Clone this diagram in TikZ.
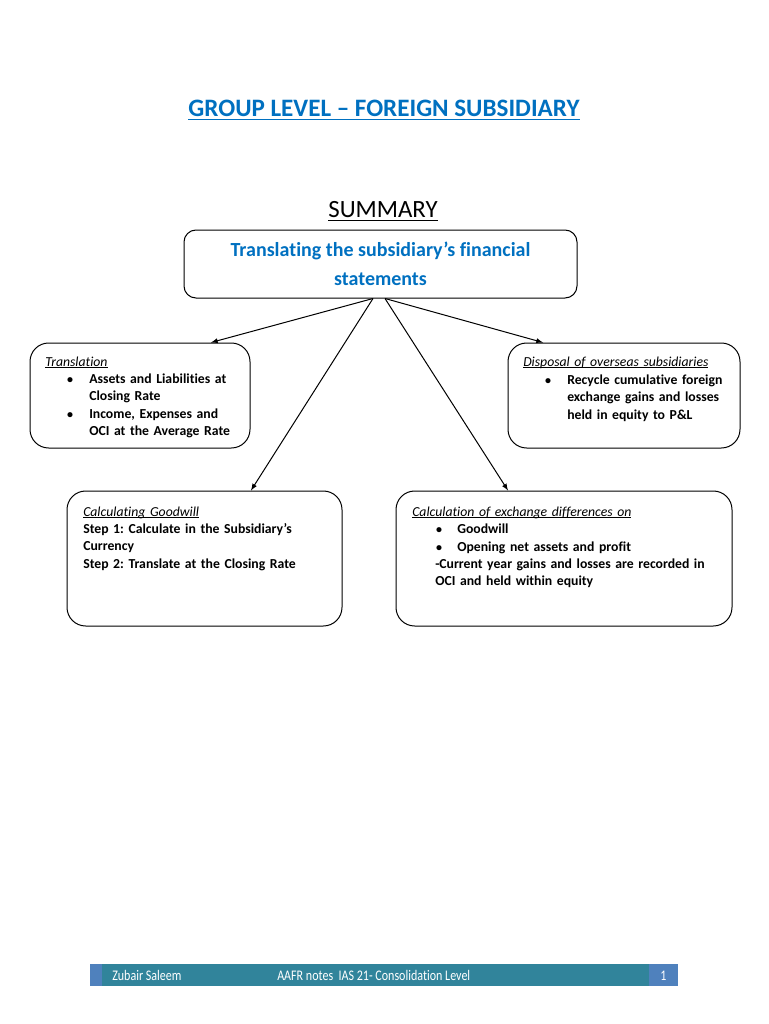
\documentclass[tikz,border=0pt]{standalone}
\usepackage{fontspec}
\setmainfont{Carlito}[Ligatures=NoCommon]
\newfontfamily\footfont[FakeStretch=0.82,Ligatures=NoCommon]{Carlito}
\usetikzlibrary{calc,positioning}

\definecolor{titleblue}{HTML}{0070C0}
\definecolor{footteal}{HTML}{31849B}
\definecolor{footblue}{HTML}{4F81BD}

\newcommand{\uln}[2][2pt]{\leavevmode\setbox0\hbox{#2}\rlap{\copy0}\rule[-#1]{\wd0}{0.6pt}}
\newcommand{\boxhead}[1]{\uln[1.6pt]{\textmd{\textit{#1}}}}

\begin{document}
\begin{tikzpicture}[x=0.75pt,y=-0.75pt]

\tikzstyle{topbox} = [rectangle, draw=black, rounded corners=9pt, line width=0.75pt, minimum width=294.75pt, minimum height=51pt, align=center, text=titleblue, font=\fontsize{15}{21.75}\selectfont\bfseries]
\tikzstyle{box} = [rectangle, draw=black, rounded corners=14pt, line width=0.75pt, inner sep=0]
\tikzstyle{boxtext} = [anchor=base west, inner sep=0, text width=230pt, align=left, font=\fontsize{10.3}{13.2}\selectfont\bfseries\frenchspacing]
\tikzstyle{dot} = [anchor=base, inner sep=0, font=\fontsize{9}{13.2}\selectfont\bfseries]
\tikzstyle{foottext} = [anchor=base west, inner sep=0, text=white, font=\footfont\fontsize{11}{12}\selectfont]
\tikzstyle{arc} = [->, >=latex, line width=0.75pt]

\useasboundingbox (0,0) rectangle (768,1024);

\node[anchor=base, text=titleblue, font=\fontsize{18.8}{22}\selectfont\bfseries] (title) at (384,116) {\uln[3pt]{GROUP LEVEL – FOREIGN SUBSIDIARY}};
\node[anchor=base, font=\fontsize{18.6}{22}\selectfont] (summary) at (383,217) {\uln[2.5pt]{SUMMARY}};

\node[topbox] (translating) at (380.5,264) {Translating the subsidiary’s financial\\statements};

\node[box, minimum width=165pt, minimum height=78.75pt] (translation) at (140,395.5) {};
\node[box, minimum width=174pt, minimum height=78.75pt] (disposal) at (624,395.5) {};
\node[box, minimum width=206.25pt, minimum height=101.25pt] (goodwill) at (204.5,558.5) {};
\node[box, minimum width=252pt, minimum height=101.25pt] (exchange) at (564,558.5) {};

% translation
\node[boxtext] (translationhead) at (45,366) {\boxhead{Translation}};
\node[dot] (translationdot1) at (70,383) {\textbullet};
\node[boxtext] (translationitem1) at (89,383) {Assets and Liabilities at\\Closing Rate};
\node[dot] (translationdot2) at (70,418) {\textbullet};
\node[boxtext] (translationitem2) at (89,418) {Income, Expenses and\\OCI at the Average Rate};

% disposal
\node[boxtext] (disposalhead) at (523,366) {\boxhead{Disposal of overseas subsidiaries}};
\node[dot] (disposaldot) at (548,384) {\textbullet};
\node[boxtext] (disposalitem) at (567,384) {Recycle cumulative foreign\\exchange gains and losses\\held in equity to P\&L};

% goodwill
\node[boxtext] (goodwillhead) at (83,516) {\boxhead{Calculating Goodwill}};
\node[boxtext] (goodwillsteps) at (83,533) {Step 1: Calculate in the Subsidiary’s\\Currency\\Step 2: Translate at the Closing Rate};

% exchange differences
\node[boxtext] (exchangehead) at (412,516) {\boxhead{Calculation of exchange differences on}};
\node[dot] (exchangedot1) at (439,533) {\textbullet};
\node[boxtext] (exchangeitem1) at (457,533) {Goodwill};
\node[dot] (exchangedot2) at (439,551) {\textbullet};
\node[boxtext] (exchangeitem2) at (457,551) {Opening net assets and profit};
\node[boxtext] (exchangenote) at (435,568) {-Current year gains and losses are recorded in\\OCI and held within equity};

\draw[arc] ($(translating.south)+(-7.5,0)$) -- ($(translation.north)+(71,0)$);
\draw[arc] ($(translating.south)+(-7.5,0)$) -- ($(goodwill.north)+(46.5,0)$);
\draw[arc] ($(translating.south)+(4.5,0)$) -- ($(exchange.north)+(-56,0)$);
\draw[arc] ($(translating.south)+(4.5,0)$) -- ($(disposal.north)+(-81,0)$);

% footer
\fill[footblue] (90,964) rectangle (102,986);
\fill[footteal] (102,964) rectangle (649,986);
\fill[footblue] (649,964) rectangle (678,986);
\node[foottext] (author) at (112,980) {Zubair Saleem};
\node[foottext] (notes) at (277,980) {AAFR notes\ \ IAS 21- Consolidation Level};
\node[foottext] (page) at (660,980) {1};

\end{tikzpicture}
\end{document}
